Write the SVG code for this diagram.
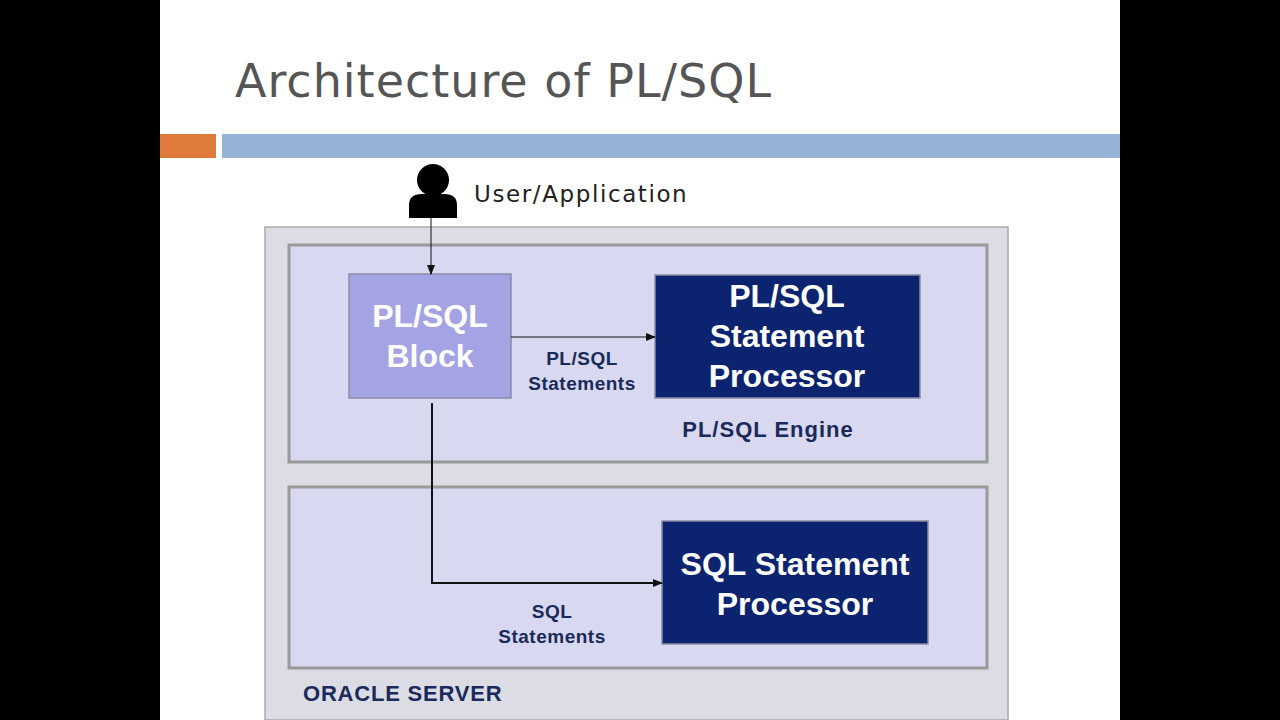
<svg xmlns="http://www.w3.org/2000/svg" width="1280" height="720" viewBox="0 0 1280 720">
<defs>
<marker id="ah" markerWidth="10" markerHeight="8" refX="9" refY="4" orient="auto" markerUnits="userSpaceOnUse"><path d="M0,0 L10,4 L0,8 z" fill="#111"/></marker>
</defs>
<style>
.lbl{font-family:"Liberation Sans",Arial,sans-serif;font-weight:bold;fill:#1a2a5a;text-anchor:middle}
.big{font-family:"Liberation Sans",Arial,sans-serif;font-weight:bold;fill:#fff;font-size:32px;text-anchor:middle}
.panel{fill:#d8d8f0;stroke:#9a9a9a;stroke-width:3}
.proc{fill:#0c2470;stroke:#8a8aa0;stroke-width:1.5}
</style>
<rect width="1280" height="720" fill="#000"/>
<rect x="160" y="0" width="960" height="720" fill="#fff"/>
<text x="235" y="97" font-family="DejaVu Sans, sans-serif" font-size="46" fill="#555" letter-spacing="1">Architecture of PL/SQL</text>
<rect x="160" y="134" width="56" height="24" fill="#e07a3c"/>
<rect x="222" y="134" width="898" height="24" fill="#95b3d7"/>
<g id="user">
<circle cx="433" cy="180" r="16" fill="#000"/>
<path d="M409,218 L409,205 Q409,194 422,194 L444,194 Q457,194 457,205 L457,218 Z" fill="#000"/>
<text x="474" y="202" font-family="DejaVu Sans, sans-serif" font-size="23" fill="#222" letter-spacing="1.6">User/Application</text>
</g>
<g id="oracle-server">
<rect x="265" y="227" width="743" height="493" fill="#dcdce4" stroke="#aaa" stroke-width="1.5"/>
<text x="303" y="701" class="lbl" style="text-anchor:start" font-size="22" letter-spacing="0.8">ORACLE SERVER</text>
</g>
<g id="plsql-engine">
<rect x="289" y="245" width="698" height="217" class="panel"/>
<text x="768" y="437" class="lbl" font-size="22" font-weight="normal" letter-spacing="1">PL/SQL Engine</text>
</g>
<g id="sql-panel">
<rect x="289" y="487" width="698" height="181" class="panel"/>
</g>
<g id="plsql-block">
<rect x="349" y="274" width="162" height="124" fill="#a4a4e4" stroke="#8a8aa8" stroke-width="1.5"/>
<text x="430" y="327" class="big">PL/SQL</text>
<text x="430" y="367" class="big">Block</text>
</g>
<g id="plsql-processor">
<rect x="655" y="275" width="265" height="123" class="proc"/>
<text x="787" y="307" class="big">PL/SQL</text>
<text x="787" y="347" class="big">Statement</text>
<text x="787" y="387" class="big">Processor</text>
</g>
<g id="sql-processor">
<rect x="662" y="521" width="266" height="123" class="proc"/>
<text x="795" y="575" class="big" font-size="33">SQL Statement</text>
<text x="795" y="615" class="big" font-size="33">Processor</text>
</g>
<g id="connectors" fill="none" stroke="#111">
<line x1="431" y1="218" x2="431" y2="274" stroke-width="1" marker-end="url(#ah)"/>
<line x1="511" y1="337" x2="655" y2="337" stroke-width="1" marker-end="url(#ah)"/>
<polyline points="432,403 432,583 662,583" stroke-width="2" marker-end="url(#ah)"/>
</g>
<g id="conn-labels">
<text x="582" y="365" class="lbl" font-size="19" letter-spacing="0.5">PL/SQL</text>
<text x="582" y="390" class="lbl" font-size="19" letter-spacing="0.5">Statements</text>
<text x="552" y="618" class="lbl" font-size="19" letter-spacing="0.5">SQL</text>
<text x="552" y="643" class="lbl" font-size="19" letter-spacing="0.5">Statements</text>
</g>
</svg>
